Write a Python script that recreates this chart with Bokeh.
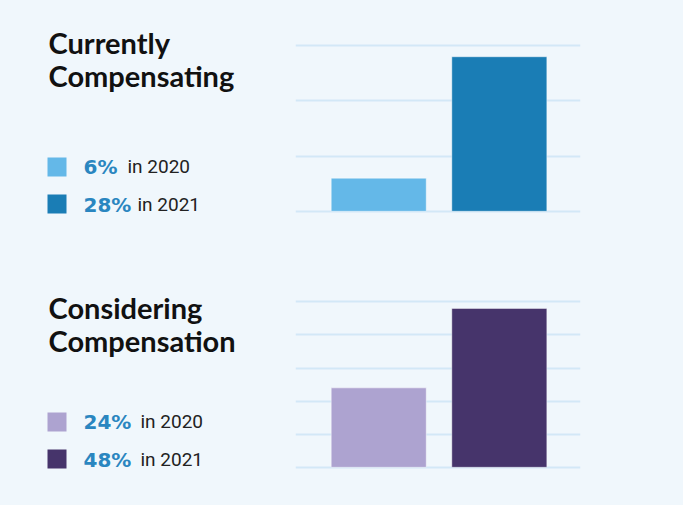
from bokeh.plotting import figure
from bokeh.models import Range1d, FixedTicker
from bokeh.layouts import column, row
from bokeh.core.properties import value
from bokeh.embed import file_html
from bokeh.resources import INLINE

# ---- data ----
years = ["2020", "2021"]
current_values = [6, 28]
considering_values = [24, 48]
current_colors = ["#64b8e8", "#1a7db5"]
considering_colors = ["#ada3d0", "#46346b"]
current_title = ["Currently", "Compensating"]
considering_title = ["Considering", "Compensation"]
current_ticks = [0, 10, 20, 30]
considering_ticks = [0, 10, 20, 30, 40, 50]

BG = "#f0f7fc"
GRID = "#d3e8f7"
PCT = "#2a86c0"
W = 683
FRAME_LEFT = 295
FRAME_RIGHT = 580
SHIFT = 0.35  # baseline correction, in em


def base_fig(width, height, **kw):
    p = figure(width=width, height=height, output_backend="svg", toolbar_location=None,
               x_axis_location=None, y_axis_location=None,
               background_fill_color=BG, border_fill_color=BG, outline_line_color=None,
               min_border=0, **kw)
    p.xgrid.grid_line_color = None
    p.ygrid.grid_line_color = None
    return p


def text_panel(values, colors, title, height, top_img, title_base, sq_top, pct_base, in_x):
    p = base_fig(FRAME_LEFT, height,
                 x_range=Range1d(0, FRAME_LEFT), y_range=Range1d(top_img + height, top_img),
                 min_border_left=0, min_border_right=0,
                 min_border_top=0, min_border_bottom=0)
    p.text(x=[48] * len(title), y=[b - SHIFT * 29 for b in title_base], text=title,
           text_font=value("Lato"), text_font_style="bold", text_font_size="29px",
           text_color="#111111", text_baseline="alphabetic")
    p.quad(left=[47] * len(values), right=[66] * len(values),
           top=sq_top, bottom=[t + 19 for t in sq_top],
           fill_color=colors, line_color=None)
    p.text(x=[83] * len(values), y=[b - SHIFT * 20 for b in pct_base],
           text=[f"{v}%" for v in values],
           text_font=value("DejaVu Sans"), text_font_style="bold", text_font_size="20px",
           text_color=PCT, text_baseline="alphabetic")
    p.text(x=in_x, y=[b - SHIFT * 19 for b in pct_base], text=[f"in {yr}" for yr in years],
           text_font=value("Roboto"), text_font_size="19px",
           text_color="#222222", text_baseline="alphabetic")
    return p


def bar_panel(values, colors, ticks, height, top_img, baseline_img, px_per_unit):
    y0 = -(top_img + height - baseline_img) / px_per_unit
    y1 = (baseline_img - top_img) / px_per_unit
    p = base_fig(W - FRAME_LEFT, height,
                 x_range=Range1d(-0.69, 1.673), y_range=Range1d(y0, y1),
                 min_border_left=0, min_border_right=W - FRAME_RIGHT,
                 min_border_top=0, min_border_bottom=0)
    p.ygrid.ticker = FixedTicker(ticks=ticks)
    p.ygrid.grid_line_color = GRID
    p.ygrid.grid_line_width = 2
    p.vbar(x=list(range(len(values))), top=values, bottom=0, width=0.788,
           fill_color=colors, line_color="white", line_alpha=0.45, line_width=1)
    return p


t1 = text_panel(current_values, current_colors, current_title, 253, 0,
                title_base=[52, 85], sq_top=[157, 194], pct_base=[173, 211], in_x=[127, 137])
b1 = bar_panel(current_values, current_colors, current_ticks, 253, 0,
               baseline_img=210.8, px_per_unit=5.52)
t2 = text_panel(considering_values, considering_colors, considering_title, 252, 253,
                title_base=[317, 350], sq_top=[412, 449], pct_base=[428, 466], in_x=[140, 140])
b2 = bar_panel(considering_values, considering_colors, considering_ticks, 252, 253,
               baseline_img=466.8, px_per_unit=3.31)

layout = column(row(t1, b1, spacing=0), row(t2, b2, spacing=0), spacing=0,
                styles={"background-color": BG})
open("out.html", "w").write(file_html(layout, INLINE))
